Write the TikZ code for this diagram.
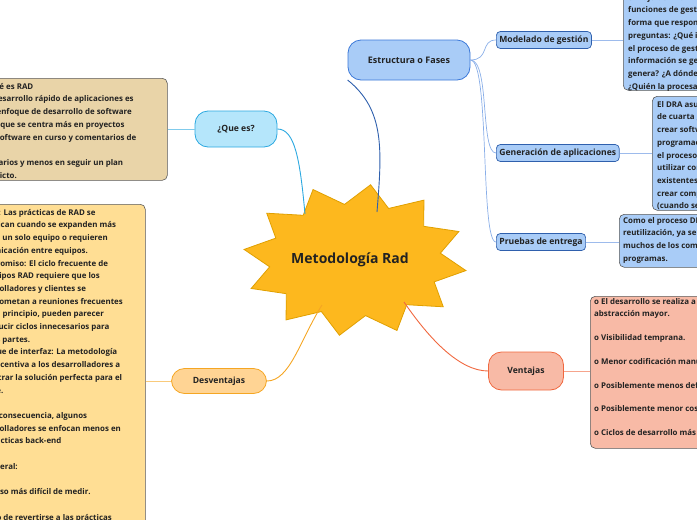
\documentclass[tikz,border=0pt]{standalone}
\usepackage{fontspec}
\setmainfont{Open Sans}
\definecolor{bluef}{HTML}{A9CCF7}\definecolor{blued}{HTML}{3B78D8}
\definecolor{cyanf}{HTML}{B5E6FB}\definecolor{cyand}{HTML}{2BA8E0}
\definecolor{tanf}{HTML}{E9D4A8}\definecolor{yelf}{HTML}{FFDE94}
\definecolor{orf}{HTML}{FFD494}\definecolor{ord}{HTML}{F5A623}
\definecolor{redf}{HTML}{F8BAA6}\definecolor{redd}{HTML}{F0683F}
\definecolor{starf}{HTML}{FDB81E}\definecolor{stard}{HTML}{E0A000}
\definecolor{txt}{HTML}{222222}
\tikzset{
 every node/.style={text=txt,font=\bfseries},
 topic/.style={draw=#1!80!black,rounded corners=4pt,line width=0.7pt,minimum height=17pt,inner sep=3pt,font=\bfseries\fontsize{8.6}{10}\selectfont},
 pill/.style={draw=#1,rounded corners=13pt,line width=0.8pt,inner sep=0pt},
 detail/.style={draw=gray!70!black,rounded corners=5pt,line width=0.6pt},
 dtext/.style={align=left,anchor=north west,inner sep=0pt,font=\bfseries\fontsize{7.9}{12.7}\selectfont},
 link/.style={line width=0.9pt}
}
\begin{document}
\begin{tikzpicture}[x=1pt,y=-1pt]
\useasboundingbox (0,0) rectangle (697,520);
\clip (0,0) rectangle (697,520);
% star
\node[inner sep=0pt,minimum size=1pt] (c) at (355,260) {};
\draw[fill=starf,draw=stard,line width=0.8pt] plot[samples at={0,...,23},variable=\k]
 ({355+(mod(\k,2)==0?112:86)*cos(\k*15+8)},{260+(mod(\k,2)==0?76:56)*sin(\k*15+8)}) -- cycle;
\node[font=\bfseries\fontsize{14}{16}\selectfont] at (350,260) {Metodología Rad};
\coordinate (sT) at (377,212);
\coordinate (sQ) at (305,214);
\coordinate (sD) at (322,305);
\coordinate (sV) at (404,302);
% Estructura
\node[pill=blued,fill=bluef,minimum width=122pt,minimum height=40pt,font=\bfseries\fontsize{9}{11}\selectfont] (est) at (409,60) {Estructura o Fases};
\draw[link,blued!80!black] (sT) .. controls (382,150) and (385,110) .. (est.south west |- 0,80);
\node[topic=blued,fill=bluef,anchor=west] (mod) at (496,40) {Modelado de gestión};
\node[topic=blued,fill=bluef,anchor=west] (gen) at (496,153) {Generación de aplicaciones};
\node[topic=blued,fill=bluef,anchor=west] (pru) at (496,242) {Pruebas de entrega};
\foreach \n in {mod,gen,pru}
 \draw[link,blued!60,line width=0.7pt] (est.east) .. controls (490,60) and (480,0 |- \n.west) .. (\n.west);
\node[detail,fill=bluef,minimum width=120pt,minimum height=98pt,anchor=north west] (mdd) at (623,-8) {};
\node[dtext] at (628,-6) {el flujo de información entre las\\funciones de gestión se modela de\\forma que responda a las siguientes\\preguntas: ¿Qué información conduce\\el proceso de gestión? ¿Qué\\información se genera? ¿Quién la\\genera? ¿A dónde va la información?\\¿Quién la procesa?};
\draw[link,blued!50] (mod.east) -- (mdd.west |- mod.east);
\node[detail,fill=bluef,minimum width=120pt,minimum height=114pt,anchor=north west] (gdd) at (652,96) {};
\node[dtext] at (657,101) {El DRA asume la utilización de técnicas\\de cuarta generación. En lugar de\\crear software con lenguajes de\\programación de tercera generación,\\el proceso DRA trabaja para volver a\\utilizar componentes de programas\\existentes (cuando es posible) o\\crear componentes reutilizables\\(cuando sea necesario)};
\draw[link,blued!50] (gen.east) -- (gdd.west |- gen.east);
\node[detail,fill=bluef,minimum width=120pt,minimum height=53pt,anchor=north west] (pdd) at (619,214) {};
\node[dtext] at (623,217) {Como el proceso DRA enfatiza la\\reutilización, ya se han comprobado\\muchos de los componentes de los\\programas.};
\draw[link,blued!50] (pru.east) -- (pdd.west |- pru.east);
% Que es
\node[pill=cyand,fill=cyanf,minimum width=82pt,minimum height=36pt,font=\bfseries\fontsize{8.6}{10}\selectfont] (que) at (236,129) {¿Que es?};
\draw[link,cyand] (sQ) .. controls (300,160) and (295,129) .. (que.east);
\node[detail,fill=tanf,minimum width=180pt,minimum height=102pt,anchor=north west] (qdd) at (-13,78) {};
\node[dtext] at (-16,83) {¿Qué es RAD\\El desarrollo rápido de aplicaciones es\\un enfoque de desarrollo de software\\ágil que se centra más en proyectos\\de software en curso y comentarios de\\los\\usuarios y menos en seguir un plan\\estricto.};
\draw[link,cyand!60,line width=0.7pt] (qdd.east |- que.west) -- (que.west);
% Desventajas
\node[pill=ord,fill=orf,minimum width=95pt,minimum height=25pt,font=\bfseries\fontsize{8.6}{10}\selectfont] (des) at (219,381) {Desventajas};
\draw[link,ord] (sD) .. controls (300,340) and (290,381) .. (des.east);
\node[detail,fill=yelf,minimum width=160pt,minimum height=330pt,anchor=north west] (ddd) at (-15,204) {};
\node[dtext] at (-26,209) {Escala: Las prácticas de RAD se\\complican cuando se expanden más\\allá de un solo equipo o requieren\\comunicación entre equipos.\\Compromiso: El ciclo frecuente de\\prototipos RAD requiere que los\\desarrolladores y clientes se\\comprometan a reuniones frecuentes\\que, al principio, pueden parecer\\introducir ciclos innecesarios para\\ambas partes.\\Enfoque de interfaz: La metodología\\RAD incentiva a los desarrolladores a\\encontrar la solución perfecta para el\\cliente.\\[12.7pt]Como consecuencia, algunos\\desarrolladores se enfocan menos en\\las prácticas back-end\\[12.7pt]En general:\\[12.7pt]Progreso más difícil de medir.\\[12.7pt]Peligro de revertirse a las prácticas\\de control de antaño.};
\draw[link,ord!60,line width=0.7pt] (ddd.east |- des.west) -- (des.west);
% Ventajas
\node[pill=redd,fill=redf,minimum width=75pt,minimum height=38pt,font=\bfseries\fontsize{8.6}{10}\selectfont] (ven) at (526,371) {Ventajas};
\draw[link,redd] (sV) .. controls (430,340) and (460,371) .. (ven.west);
\node[detail,fill=redf,minimum width=130pt,minimum height=152pt,anchor=north west] (vdd) at (590,296) {};
\node[dtext] at (594,298) {o El desarrollo se realiza a un nivel de\\abstracción mayor.\\[11pt]o Visibilidad temprana.\\[11pt]o Menor codificación manual.\\[11pt]o Posiblemente menos defectos.\\[11pt]o Posiblemente menor costo.\\[11pt]o Ciclos de desarrollo más cortos.};
\draw[link,redd!60,line width=0.7pt] (ven.east) -- (vdd.west |- ven.east);
\end{tikzpicture}
\end{document}
